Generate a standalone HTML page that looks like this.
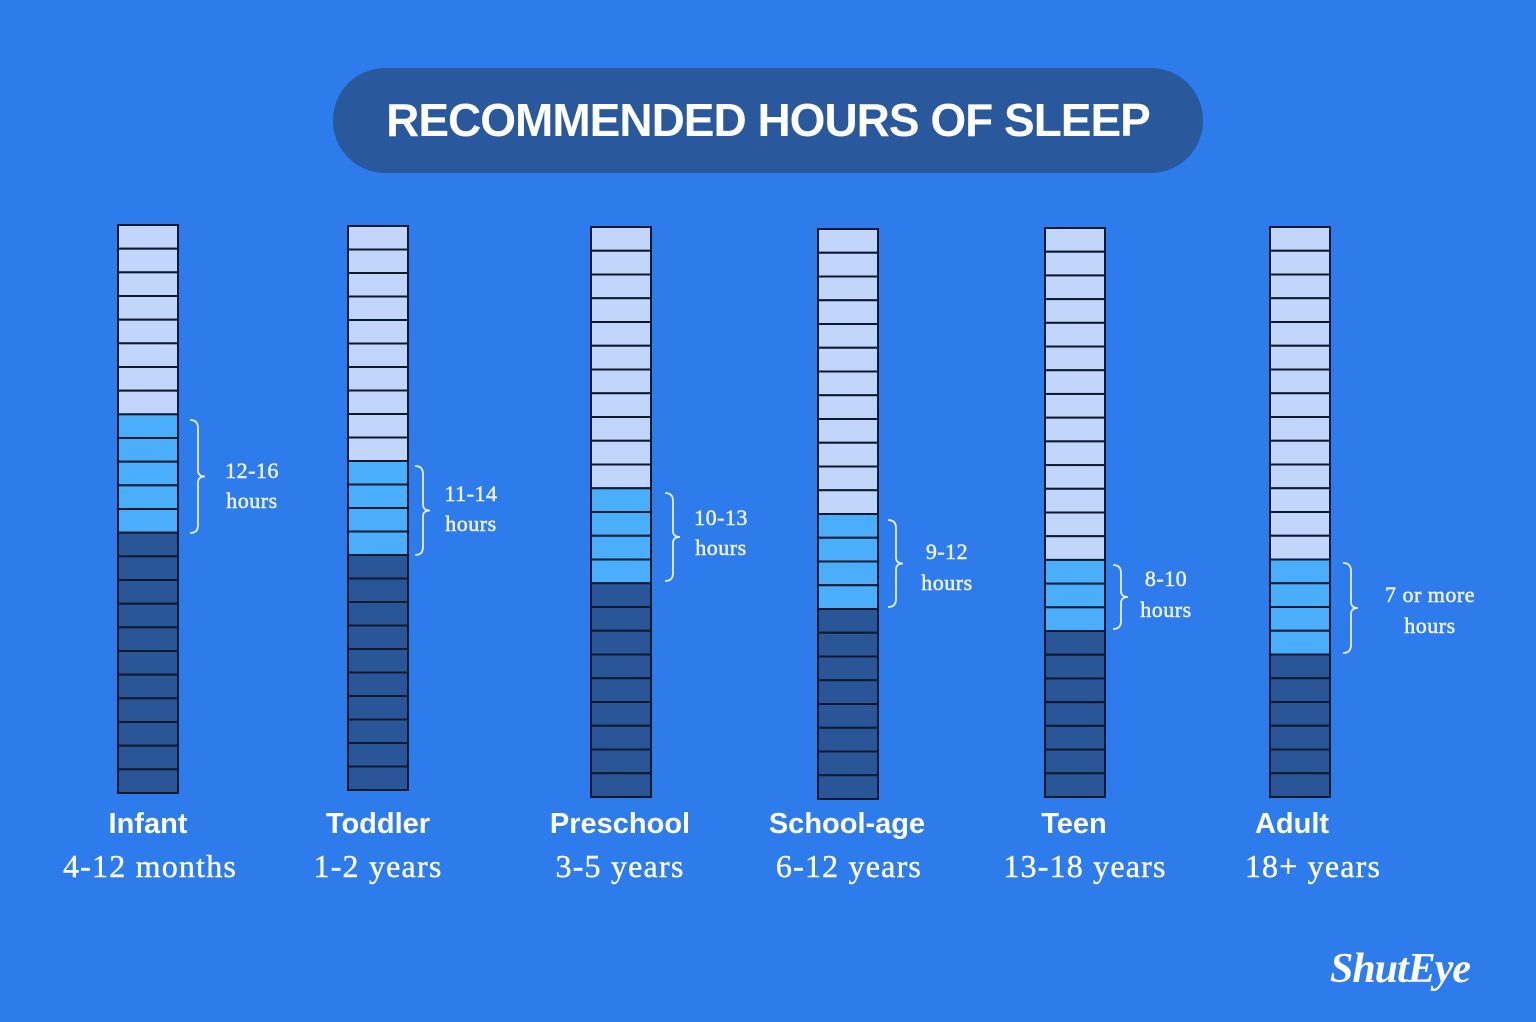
<!DOCTYPE html>
<html><head><meta charset="utf-8"><style>
html,body{margin:0;padding:0;width:1536px;height:1022px;overflow:hidden;background:#2e7bec}
svg{display:block}
</style></head><body>
<svg id="s" width="1536" height="1022" viewBox="0 0 1536 1022" xmlns="http://www.w3.org/2000/svg">
<rect width="1536" height="1022" fill="#2e7bec"/>
<rect x="333" y="68" width="870" height="105" rx="52" fill="#2a589c"/>
<text x="768" y="136" text-anchor="middle" font-family="Liberation Sans, sans-serif" font-weight="bold" font-size="46" fill="#fff" letter-spacing="-1">RECOMMENDED HOURS OF SLEEP</text>
<g id="bars"></g>
<text x="1400" y="982" text-anchor="middle" font-family="Liberation Serif, serif" font-style="italic" font-weight="bold" font-size="42" fill="#fff" letter-spacing="-1">ShutEye</text>
</svg>
<script>
var d=[
 {x:118,t:225,b:793,l:8,m:5,br:[190,420,533],lx:252,ly:[470,501],lab:"12-16",n:"Infant",nx:148,s:"4-12 months",sx:150},
 {x:348,t:226,b:790,l:10,m:4,br:[415,466,555],lx:471,ly:[493,524],lab:"11-14",n:"Toddler",nx:378,s:"1-2 years",sx:378},
 {x:591,t:227,b:797,l:11,m:4,br:[665,493,581],lx:721,ly:[517,548],lab:"10-13",n:"Preschool",nx:620,s:"3-5 years",sx:620},
 {x:818,t:229,b:799,l:12,m:4,br:[888,520,607],lx:947,ly:[551,583],lab:"9-12",n:"School-age",nx:847,s:"6-12 years",sx:849},
 {x:1045,t:228,b:797,l:14,m:3,br:[1113,565,629],lx:1166,ly:[578,610],lab:"8-10",n:"Teen",nx:1074,s:"13-18 years",sx:1085},
 {x:1270,t:227,b:797,l:14,m:4,br:[1343,563,653],lx:1430,ly:[594,626],lab:"7 or more",n:"Adult",nx:1292,s:"18+ years",sx:1313}
];
var h='';
d.forEach(function(o){
 var ch=(o.b-o.t)/24;
 for(var i=0;i<24;i++){
  var c=i<o.l?'#c2d6fb':(i<o.l+o.m?'#4aaefc':'#2a5596');
  h+='<rect x="'+o.x+'" y="'+(o.t+i*ch).toFixed(2)+'" width="60" height="'+ch.toFixed(2)+'" fill="'+c+'" stroke="#0d1a2e" stroke-width="2"/>';
 }
 var bx=o.br[0],y1=o.br[1],y2=o.br[2],ym=(y1+y2)/2;
 h+='<path d="M'+bx+' '+y1+' q8 0 8 8 V'+(ym-6)+' q0 6 7 6 q-7 0 -7 6 V'+(y2-8)+' q0 8 -8 8" fill="none" stroke="#e8eefc" stroke-width="1.8"/>';
 h+='<text x="'+o.lx+'" y="'+(o.ly[0]+8)+'" text-anchor="middle" font-family="Liberation Serif, serif" font-size="22" fill="#eef3ff" stroke="#eef3ff" stroke-width="0.5" letter-spacing="0.5">'+o.lab+'</text>';
 h+='<text x="'+o.lx+'" y="'+(o.ly[1]+7)+'" text-anchor="middle" font-family="Liberation Serif, serif" font-size="22" fill="#eef3ff" stroke="#eef3ff" stroke-width="0.5" letter-spacing="0.5">hours</text>';
 h+='<text x="'+o.nx+'" y="833" text-anchor="middle" font-family="Liberation Sans, sans-serif" font-weight="bold" font-size="29" fill="#fff">'+o.n+'</text>';
 h+='<text x="'+o.sx+'" y="877" text-anchor="middle" font-family="Liberation Serif, serif" font-size="32" fill="#fff" stroke="#fff" stroke-width="0.4" letter-spacing="1.2">'+o.s+'</text>';
});
document.getElementById('bars').innerHTML=h;
</script>
</body></html>
